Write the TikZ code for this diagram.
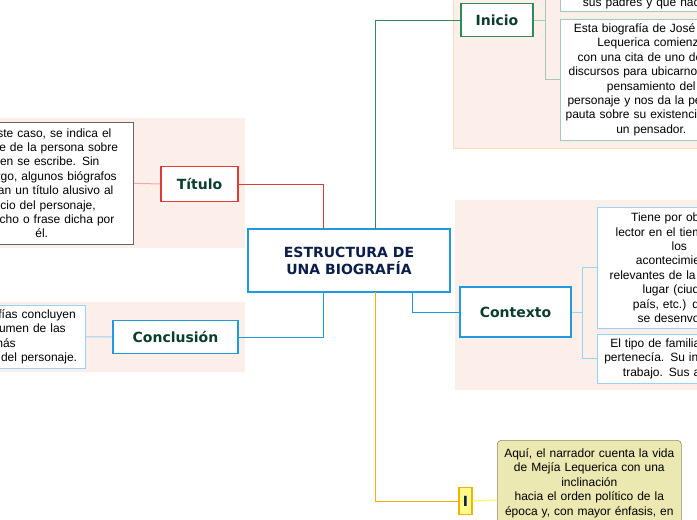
\documentclass[tikz,border=0pt]{standalone}
\usepackage{fontspec}
\setmainfont{Liberation Sans}
\newfontfamily\headfont{DejaVu Sans}
\definecolor{bgpink}{HTML}{FCEFEA}
\definecolor{bgline}{HTML}{FBDDB8}
\definecolor{dgreen}{HTML}{0B3D2E}
\definecolor{navy}{HTML}{0C1F4A}
\definecolor{cgreen}{HTML}{2E8B57}
\definecolor{cred}{HTML}{E53935}
\definecolor{cblue}{HTML}{1E9BE0}
\definecolor{cyel}{HTML}{F0B400}
\begin{document}
\begin{tikzpicture}[x=1pt,y=-1pt,
  topic/.style={draw,line width=1.6pt,fill=white,font=\headfont\bfseries\fontsize{14}{16}\selectfont,text=dgreen,inner sep=0pt},
  leaf/.style={draw,line width=0.6pt,fill=white,font=\fontsize{12}{14.4}\selectfont,align=center,inner sep=2pt},
  bg/.style={fill=bgpink}]
\useasboundingbox (0,0) rectangle (697,520);
\clip (0,0) rectangle (697,520);
% backgrounds
\fill[bgpink,draw=bgline] (453,-5) rectangle (705,148);
\fill[bgpink] (0,118) rectangle (245,248);
\fill[bgpink] (0,302) rectangle (245,372);
\fill[bgpink] (455,200) rectangle (705,390);
% central
\node[draw=cblue,line width=1.6pt,fill=white,minimum width=202pt,minimum height=63pt,align=center,text=navy,font=\headfont\bfseries\fontsize{14}{17}\selectfont] (c) at (349,260.5) {ESTRUCTURA DE\\UNA BIOGRAFÍA};
% topics
\node[topic,draw=cgreen,minimum width=72pt,minimum height=33pt] (ini) at (497,20) {Inicio};
\node[topic,draw=cred,minimum width=77pt,minimum height=35pt] (tit) at (199.5,184) {Título};
\node[topic,draw=cblue,minimum width=125pt,minimum height=33pt] (con) at (175.5,337) {Conclusión};
\node[topic,draw=cblue,minimum width=111pt,minimum height=50pt] (ctx) at (515.5,312) {Contexto};
\node[draw=cyel,line width=1.2pt,fill=yellow!45!white,minimum width=13pt,minimum height=27pt,inner sep=0pt,text=navy,font=\headfont\bfseries\fontsize{14}{16}\selectfont] (i) at (465.5,501) {I};
% leaves
\node[leaf,draw=cgreen!45,text width=178pt,minimum height=30pt,anchor=north west] (i1) at (560,-20) {\strut\\sus padres y qué hacían.};
\node[leaf,draw=cgreen!45,text width=178pt,minimum height=121pt,anchor=north west] (i2) at (560,19) {Esta biografía de José Mejía\\Lequerica comienza\\con una cita de uno de sus\\discursos para ubicarnos en el\\pensamiento del\\personaje y nos da la pequeña\\pauta sobre su existencia como\\un pensador.};
\node[leaf,draw=gray!80!black,text width=180pt,minimum height=122pt,anchor=north east] (t1) at (134,122) {En este caso, se indica el\\nombre de la persona sobre\\quien se escribe. Sin\\embargo, algunos biógrafos\\colocan un título alusivo al\\oficio del personaje,\\un hecho o frase dicha por\\él.};
\node[leaf,draw=cblue!45,align=left,text width=142pt,minimum height=63pt,anchor=north east] (c1) at (86,305) {Las biografías concluyen\\con un resumen de las\\acciones más\\relevantes del personaje.};
\node[leaf,draw=cblue!45,text width=160pt,minimum height=121pt,anchor=north west] (x1) at (597,207) {Tiene por objetivo\\lector en el tiempo y en\\los\\acontecimientos\\relevantes de la época, el\\lugar (ciudad,\\país, etc.) donde\\se desenvolvió.};
\node[leaf,draw=cblue!45,text width=160pt,minimum height=49pt,anchor=north west] (x2) at (597,334) {El tipo de familia a la que\\pertenecía. Su infancia. Su\\trabajo. Sus amigos.};
\node[leaf,draw=gray!70!olive,fill=yellow!30!olive!25!white,rounded corners=4pt,text width=180pt,minimum height=100pt,anchor=north west] (y1) at (497,440) {Aquí, el narrador cuenta la vida\\de Mejía Lequerica con una\\inclinación\\hacia el orden político de la\\época y, con mayor énfasis, en\\su ideología.};
% connectors
\draw[cgreen,line width=1pt] (375,229) |- (ini.west);
\draw[cred,line width=1pt] (323,229) |- (tit.east);
\draw[cblue,line width=1pt] (323,292) |- (con.east);
\draw[cblue,line width=1pt] (412,292) |- (ctx.west);
\draw[cyel,line width=1pt] (375,292) |- (i.west);
\draw[cgreen!45,line width=1pt] (ini.east) -- (545,20) (545,0) |- (i2.west);
\draw[cred!45,line width=1pt] (tit.west) -- (t1.east);
\draw[cblue!45,line width=1pt] (con.west) -- (c1.east);
\draw[cblue!45,line width=1pt] (ctx.east) -- (582,312) (582,267) |- (x1.west) (582,267) |- (x2.west);
\draw[yellow!50!white,line width=1.5pt] (i.east) -- (497,500);
\end{tikzpicture}
\end{document}
